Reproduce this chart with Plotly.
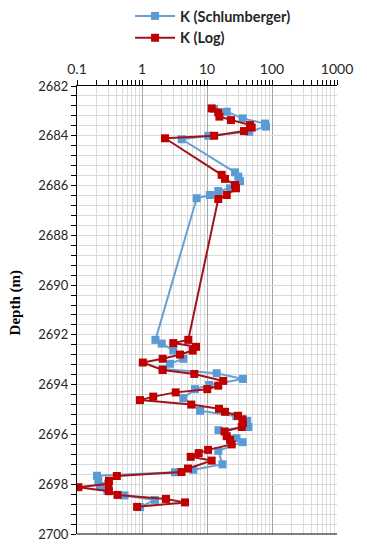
import plotly.graph_objects as go

# K (Schlumberger)
depth_schl = [2682.92, 2683.03, 2683.30, 2683.51, 2683.63, 2683.84, 2684.00, 2684.14,
              2685.47, 2685.64, 2685.82, 2685.98, 2686.11, 2686.22, 2686.38, 2686.51,
              2692.20, 2692.35, 2692.62, 2692.96, 2693.16, 2693.37, 2693.54, 2693.77,
              2694.01, 2694.18, 2694.54, 2695.05, 2695.27, 2695.45, 2695.70, 2695.83,
              2696.15, 2696.31, 2696.66, 2697.20, 2697.42, 2697.52, 2697.66, 2697.85,
              2698.08, 2698.27, 2698.45, 2698.63, 2698.92]
k_schl = [12.8, 20.1, 35.4, 78.0, 80.8, 44.7, 10.5, 4.08,
          27.0, 30.3, 32.2, 27.9, 22.6, 14.9, 11.1, 6.94,
          1.61, 2.01, 3.03, 4.32, 2.70, 2.07, 14.1, 35.8,
          10.8, 6.53, 4.32, 7.80, 28.2, 41.5, 43.2, 15.0,
          28.4, 35.2, 14.9, 17.3, 6.16, 3.22, 0.203, 0.213,
          0.226, 0.294, 0.538, 1.58, 0.93]

# K (Log)
depth_log = [2682.90, 2683.06, 2683.23, 2683.37, 2683.57, 2683.67, 2683.81, 2684.00, 2684.10,
             2685.57, 2685.73, 2685.98, 2686.11, 2686.38, 2686.54,
             2692.20, 2692.33, 2692.48, 2692.63, 2692.79, 2692.96, 2693.11, 2693.41, 2693.57,
             2693.85, 2694.04, 2694.18, 2694.31, 2694.48, 2694.62, 2694.80, 2694.97, 2695.09,
             2695.25, 2695.39, 2695.55, 2695.70, 2695.88, 2696.07, 2696.22, 2696.40, 2696.62,
             2696.75, 2696.90, 2697.05, 2697.37, 2697.51, 2697.67, 2697.86, 2697.98, 2698.12,
             2698.28, 2698.43, 2698.59, 2698.73, 2698.91]
k_log = [11.8, 14.9, 15.5, 23.4, 45.9, 48.7, 37.1, 12.9, 2.26,
         16.8, 18.9, 27.0, 27.9, 20.1, 14.9,
         5.15, 3.03, 6.77, 6.03, 3.84, 2.08, 1.03, 2.08, 6.38,
         17.8, 14.9, 10.1, 3.30, 1.49, 0.93, 5.73, 15.3, 18.9,
         30.0, 35.2, 35.8, 34.2, 18.6, 20.1, 22.6, 24.0, 10.4,
         7.45, 5.61, 11.8, 5.10, 4.05, 0.41, 0.31, 0.305, 0.105,
         0.31, 0.42, 2.34, 4.59, 0.84]

x_ticks = [0.1, 1, 10, 100, 1000]
x_tick_labels = ["0.1", "1", "10", "100", "1000"]
x_minor = [m * 10 ** e for e in range(-1, 3) for m in range(2, 10)]
y_ticks = list(range(2682, 2701, 2))

fig = go.Figure()
fig.add_trace(go.Scatter(
    x=k_schl, y=depth_schl, mode="lines+markers", name="K (Schlumberger)",
    line=dict(color="#6A9FD0", width=2),
    marker=dict(symbol="square", size=8, color="#5B9BD5"),
))
fig.add_trace(go.Scatter(
    x=k_log, y=depth_log, mode="lines+markers", name="K (Log)",
    line=dict(color="#A0131A", width=2),
    marker=dict(symbol="square", size=8, color="#C00000"),
))

fig.update_layout(
    width=367, height=552,
    margin=dict(l=77, r=30, t=86, b=18, autoexpand=False),
    paper_bgcolor="white", plot_bgcolor="white",
    font=dict(family="Lato, Liberation Sans, sans-serif", size=13, color="#262626"),
    showlegend=True,
    legend=dict(
        x=0.204, y=1.192, xanchor="left", yanchor="top",
        font=dict(family="Lato, Liberation Sans, sans-serif", size=14.5, color="#262626", weight="bold"),
        bgcolor="rgba(0,0,0,0)", tracegroupgap=0, itemwidth=40,
    ),
    xaxis=dict(
        type="log", range=[-1, 3], side="top", automargin=False,
        tickmode="array", tickvals=x_ticks, ticktext=x_tick_labels,
        ticks="outside", ticklen=5, tickcolor="#000",
        showline=True, linecolor="#000", linewidth=1,
        showgrid=True, gridcolor="#a6a6a6", gridwidth=1,
        minor=dict(tickmode="array", tickvals=x_minor, ticks="outside", ticklen=5,
                   tickcolor="#000", showgrid=True, gridcolor="#dcdcdc", gridwidth=1),
        zeroline=False, tickfont=dict(size=14),
    ),
    yaxis=dict(
        range=[2700, 2682], autorange=False, automargin=False,
        tickmode="array", tickvals=y_ticks,
        ticks="outside", ticklen=5, tickcolor="#000",
        showline=True, linecolor="#000", linewidth=1,
        showgrid=True, gridcolor="#d9d9d9", gridwidth=1,
        minor=dict(dtick=0.4, tick0=2682, ticks="outside", ticklen=5, tickcolor="#000",
                   showgrid=True, gridcolor="#d9d9d9", gridwidth=1),
        zeroline=False, tickfont=dict(size=13),
    ),
    annotations=[dict(
        text="<b>Depth (m)</b>", xref="paper", yref="paper", x=-0.238, y=0.515,
        xanchor="center", yanchor="middle", textangle=-90, showarrow=False,
        font=dict(family="Liberation Serif, Times New Roman, serif", size=15, color="#000"),
    )],
    shapes=[dict(type="line", xref="paper", yref="paper", x0=0, x1=1, y0=0, y1=0,
                 line=dict(color="#000", width=1))],
)

fig.write_html("out.html", config={"displayModeBar": False},
               post_script="document.body.style.margin='0';")
